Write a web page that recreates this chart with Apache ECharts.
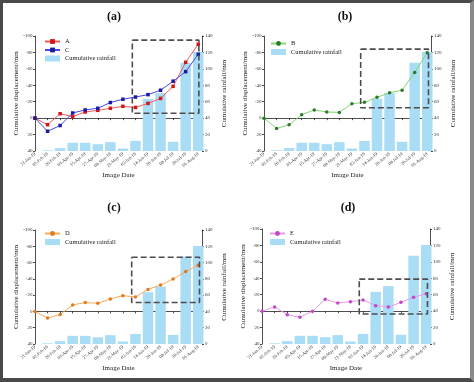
<!DOCTYPE html>
<html><head><meta charset="utf-8">
<script src="https://cdn.jsdelivr.net/npm/echarts@6/dist/echarts.min.js"></script>
<style>
html,body{margin:0;padding:0;background:#fff;}
#c{position:absolute;left:0;top:0;width:474px;height:382px;}
#frame{position:absolute;left:0;top:0;width:474px;height:382px;box-sizing:border-box;
border-top:3px solid #4a4a4a;border-left:3px solid #4a4a4a;border-bottom:4px solid #4a4a4a;border-right:4px solid #8a8a8a;pointer-events:none;}
</style></head>
<body><div id="c"></div><div id="frame"></div>
<script>
const dates = ['21-Jan-19','02-Feb-19','26-Feb-19','03-Apr-19','15-Apr-19','27-Apr-19','09-May-19','21-May-19','02-Jun-19','14-Jun-19','26-Jun-19','08-Jul-19','20-Jul-19','01-Aug-19'];
const rainfall = [0, 0.8, 3.5, 10, 10, 8.3, 10.8, 3, 12.3, 63.5, 70.5, 11.2, 107.5, 120.5];
const dispA = [0, 8, -5.4, -1.8, -7.5, -9.5, -12, -14.4, -13, -18, -24, -38.7, -68, -90];
const dispC = [0, 16, 9, -6.3, -10, -12, -19, -23, -25.7, -28.6, -34, -45, -56.6, -77.7];
const dispB = [0, 12.6, 8, -4.2, -10, -7.5, -7, -17.6, -19.2, -25.3, -31, -34, -55.7, -79.7];
const dispD = [0, 8.2, 3.8, -8, -10.9, -10, -15.4, -19.4, -17.8, -27, -32.4, -39.8, -49, -56.8];
const dispE = [0, -5, 4.3, 7.5, 0, -14.4, -10, -11.5, -13.5, -6.7, -5, -10.7, -16.8, -21.3];
const dispTicks = [-100, 40, 20];
const rainTicks = [0, 140, 20];
// dashed highlight boxes: [x0 index, y0 mm, x1 index, y1 mm]
const boxA = [7.75, -95, 13.05, -6];
const boxB = [7.7, -84, 13.1, -12.7];
const boxC = [7.7, -66.6, 13.1, -10.9];
const boxD = [7.7, -39, 13.1, 3.5];

const FONT = 'Liberation Serif';
const AX = {color:'#222', width:0.8};

const panels = [
  {title:'(a)', tx:109, ty:6, grid:{left:35, top:36, width:167, height:115}, legend:{left:44, top:38},
   lines:[{name:'A', data:dispA, line:'#f05a5a', mark:'#d01818', sym:'rect'},
          {name:'C', data:dispC, line:'#4848ee', mark:'#1a1aa0', sym:'rect'}], box:boxA},
  {title:'(b)', tx:340, ty:6, grid:{left:264, top:36, width:167, height:115}, legend:{left:270, top:40},
   lines:[{name:'B', data:dispB, line:'#86d472', mark:'#2a7a2a', sym:'circle'}], box:boxB},
  {title:'(c)', tx:109, ty:197, grid:{left:35, top:230, width:167, height:114}, legend:{left:44, top:230},
   lines:[{name:'D', data:dispD, line:'#f7aa5c', mark:'#e07a1c', sym:'circle'}], box:boxC},
  {title:'(d)', tx:343, ty:197, grid:{left:262, top:229, width:168, height:115}, legend:{left:269, top:230},
   lines:[{name:'E', data:dispE, line:'#e89ae9', mark:'#c048c4', sym:'circle'}], box:boxD}
];

const option = {animation:false, backgroundColor:'#fff', title:[], grid:[], xAxis:[], yAxis:[], series:[], legend:[]};

panels.forEach((p, i) => {
  option.title.push({text:p.title, left:p.tx, top:p.ty, textAlign:'center',
    textStyle:{fontFamily:FONT, fontWeight:'bold', fontSize:12, color:'#111'}});
  option.grid.push(p.grid);
  option.xAxis.push({type:'value', gridIndex:i, min:0, max:13.3, interval:1,
    axisLine:{lineStyle:AX}, axisTick:{length:2, lineStyle:AX}, splitLine:{show:false},
    axisLabel:{fontSize:4.5, rotate:40, margin:2.5, fontFamily:FONT, color:'#333', showMaxLabel:false,
      formatter:v => (Number.isInteger(v) && dates[v]) ? dates[v] : ''},
    name:'Image Date', nameLocation:'middle', nameGap:18,
    nameTextStyle:{fontFamily:FONT, fontSize:7, color:'#222'}});
  option.yAxis.push({type:'value', gridIndex:i, position:'left', inverse:true,
    min:dispTicks[0], max:dispTicks[1], interval:dispTicks[2],
    axisLine:{show:true, lineStyle:AX}, axisTick:{show:true, length:2, lineStyle:AX}, splitLine:{show:false},
    axisLabel:{fontSize:5, margin:2.5, fontFamily:FONT, color:'#333'},
    name:'Cumulative displacement/mm', nameLocation:'middle', nameGap:14,
    nameTextStyle:{fontFamily:FONT, fontSize:7, color:'#222'}});
  option.yAxis.push({type:'value', gridIndex:i, position:'right',
    min:rainTicks[0], max:rainTicks[1], interval:rainTicks[2],
    axisLine:{show:true, lineStyle:AX}, axisTick:{show:true, length:2, lineStyle:AX}, splitLine:{show:false},
    axisLabel:{fontSize:5, margin:3, fontFamily:FONT, color:'#333'},
    name:'Cumulative rainfall/mm', nameLocation:'middle', nameGap:19,
    nameTextStyle:{fontFamily:FONT, fontSize:7, color:'#222'}});
  option.series.push({type:'bar', name:'Cumulative rainfall', xAxisIndex:i, yAxisIndex:2*i+1,
    data:rainfall.map((v,k)=>[k,v]), barWidth:10.5, itemStyle:{color:'#a9dcf5'}, z:1});
  p.lines.forEach((l) => {
    option.series.push({type:'line', name:l.name, xAxisIndex:i, yAxisIndex:2*i,
      data:l.data.map((v,k)=>[k,v]), symbol:l.sym, symbolSize:3.5, showSymbol:true,
      lineStyle:{color:l.line, width:1}, itemStyle:{color:l.mark}, z:3});
  });
  const b = p.box;
  option.series.push({type:'line', name:'box'+i, xAxisIndex:i, yAxisIndex:2*i, silent:true,
    data:[[b[0],b[1]],[b[2],b[1]],[b[2],b[3]],[b[0],b[3]],[b[0],b[1]]],
    symbol:'none', lineStyle:{color:'#4d4d4d', width:1.6, type:[6,3]}, z:4});
  option.legend.push({left:p.legend.left, top:p.legend.top, orient:'vertical', itemWidth:15, itemHeight:6, itemGap:1.5,
    padding:0, textStyle:{fontFamily:FONT, fontSize:6.5, color:'#222'},
    data:[...p.lines.map(l=>l.name), {name:'Cumulative rainfall', icon:'rect'}]});
});

const chart = echarts.init(document.getElementById('c'), null, {renderer:'canvas'});
chart.setOption(option);
</script>
</body></html>
